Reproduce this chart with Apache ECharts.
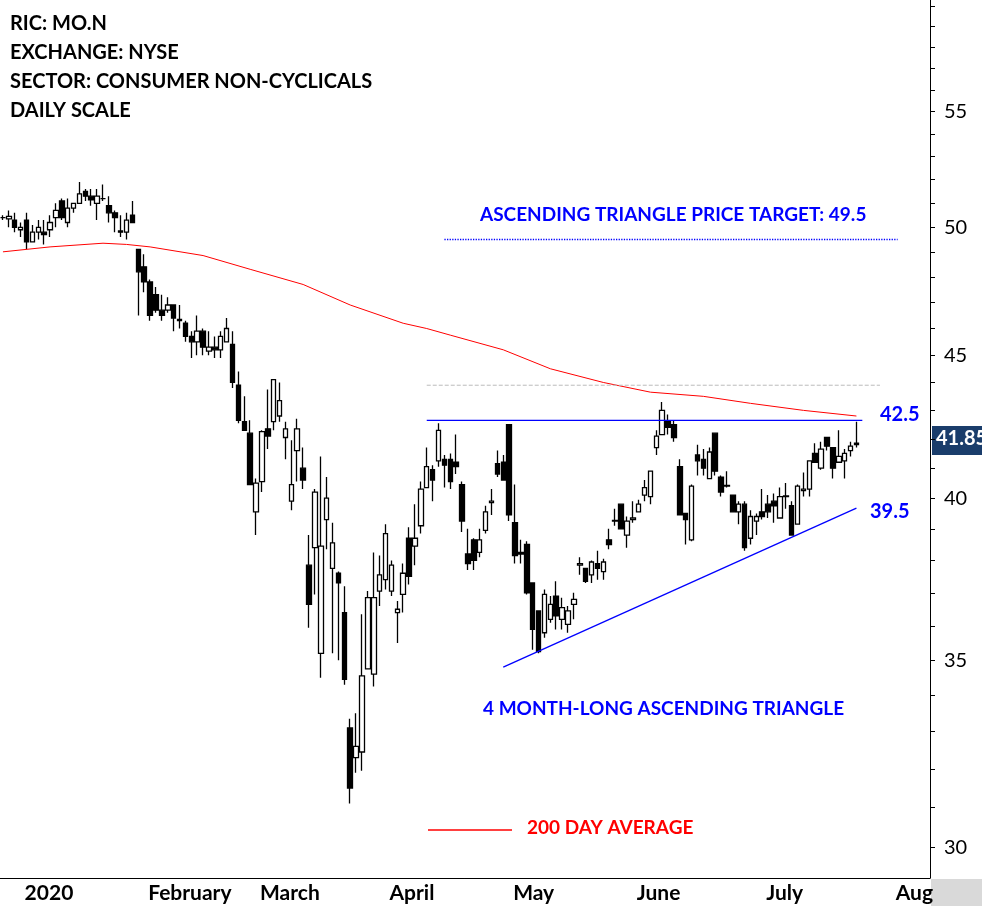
<!DOCTYPE html>
<html><head><meta charset="utf-8">
<script src="https://cdn.jsdelivr.net/npm/echarts@6/dist/echarts.min.js"></script>
<style>html,body{margin:0;padding:0;background:#fff}#c{width:982px;height:906px}</style>
</head><body><div id="c"></div>
<script>
// OHLC rows: [open, close, low, high]
const candles = [
[50.4,50.4,50.3,50.5],[50.35,50.45,50.0,50.7],[50.3,50.0,49.8,50.6],[49.9,50.0,49.6,50.2],[50.3,49.4,49.1,50.6],
[49.4,49.8,49.4,50.1],[49.8,50.0,49.5,50.3],[49.8,49.7,49.3,50.3],[49.9,50.2,49.6,50.5],[50.4,50.7,50.0,51.0],
[51.1,50.4,50.3,51.2],[50.2,50.8,50.0,51.2],[50.8,51.0,50.6,51.0],[51.0,51.4,51.0,51.9],[51.5,51.3,51.1,51.6],
[51.3,51.15,50.9,51.6],[51.0,51.3,50.3,51.6],[51.2,51.2,51.1,51.8],[50.9,50.6,50.2,51.3],[50.6,50.4,49.8,50.7],
[49.85,49.8,49.6,50.5],[49.8,50.3,49.5,50.6],[50.5,50.2,50.2,51.1],[49.1,48.2,46.5,49.1],[48.4,47.8,47.4,48.9],
[47.8,46.5,46.3,47.9],[47.3,46.7,46.6,47.6],[46.7,46.5,46.3,47.3],[46.7,46.9,46.6,47.2],[46.9,46.4,45.9,46.9],
[46.35,46.3,46.0,46.9],[46.2,45.7,45.5,46.3],[45.7,45.5,44.9,45.9],[45.5,45.9,45.0,46.5],[45.9,45.3,45.0,46.0],
[45.15,45.3,45.0,45.9],[45.3,45.2,44.9,45.7],[45.2,45.7,44.9,45.9],[45.5,46.0,45.5,46.4],[45.4,44.0,43.8,45.9],
[43.9,42.65,42.55,44.4],[42.6,42.3,42.3,43.5],[42.2,40.45,40.45,42.65],[39.55,40.5,38.8,40.65],[40.55,42.25,40.2,42.3],
[42.35,42.1,41.65,43.75],[42.6,44.1,42.3,44.1],[42.8,43.35,42.6,44.0],[42.05,42.35,41.3,42.6],[39.9,40.45,39.6,41.95],
[41.6,42.35,40.55,42.7],[41.0,40.6,40.3,41.7],[37.85,36.65,35.95,38.8],[38.4,40.2,36.95,40.3],[35.2,38.45,34.5,41.4],
[39.3,40.0,38.35,40.7],[37.75,38.55,35.2,39.2],[37.6,37.3,35.0,37.65],[36.4,34.45,34.3,37.2],[33.1,31.5,31.1,33.35],
[32.3,32.6,31.9,33.5],[32.45,34.55,31.95,36.35],[34.75,36.85,34.75,37.05],[34.6,36.85,34.25,38.25],[37.05,37.55,36.6,38.15],
[37.4,38.85,37.1,39.15],[37.05,37.85,36.9,38.0],[36.4,36.5,35.5,36.75],[36.95,37.6,36.4,37.9],[38.7,37.5,37.25,39.05],
[38.45,38.7,37.85,39.8],[39.1,40.3,38.85,40.55],[40.35,41.05,40.35,41.7],[40.95,40.6,39.9,41.1],[41.25,42.3,41.05,42.55],
[41.3,41.1,40.35,41.45],[41.3,40.55,40.3,41.5],[41.2,41.05,40.8,42.15],[40.45,39.25,38.9,40.55],[38.2,37.9,37.7,39.0],
[38.65,38.0,37.7,38.7],[38.25,38.65,38.1,39.0],[38.95,39.55,38.85,39.75],[39.85,39.9,39.45,40.3],[41.15,40.8,40.7,41.6],
[41.2,40.6,40.6,41.45],[42.5,39.45,39.25,42.5],[39.2,38.15,37.9,40.45],[38.25,38.2,37.9,38.65],[38.5,37.0,36.95,38.6],
[37.3,35.9,35.3,37.3],[36.45,35.25,35.2,36.45],[35.8,36.95,35.65,37.1],[36.2,36.65,36.1,36.9],[36.9,36.3,35.9,37.35],
[36.2,36.55,35.9,36.85],[36.05,36.45,35.8,36.6],[36.65,36.8,36.2,37.0],[37.85,37.9,37.55,38.1],[37.75,37.35,37.3,37.75],
[37.55,37.95,37.3,38.0],[37.9,37.75,37.4,38.3],[37.65,37.95,37.4,38.05],[38.65,38.5,38.35,39.0],[39.25,39.27,39.1,39.65],
[39.8,39.0,39.0,39.8],[38.8,39.25,38.4,39.4],[39.3,39.35,39.2,39.9],[39.55,39.8,39.55,39.95],[40.1,40.35,39.9,40.6],
[40.05,40.9,39.8,40.9],[41.7,42.1,41.45,42.3],[42.15,43.0,42.15,43.3],[42.6,42.4,42.15,42.85],[42.5,42.05,41.9,42.65],
[41.05,39.45,39.45,41.3],[39.5,39.3,38.5,39.5],[38.65,40.4,38.6,40.45],[41.45,41.25,40.75,41.8],[41.3,41.0,40.75,41.65],
[40.65,41.55,40.65,41.7],[42.2,40.9,40.75,42.2],[40.7,40.2,40.05,40.75],[40.4,40.42,40.35,40.9],[40.1,39.55,39.55,40.1],
[39.55,39.8,39.15,39.9],[39.8,38.4,38.3,39.9],[38.7,39.4,38.5,39.6],[39.25,39.4,38.8,39.5],[39.55,39.4,39.3,40.3],
[39.8,39.55,39.35,40.1],[39.9,39.75,39.2,40.15],[39.35,40.05,39.35,40.35],[40.05,40.07,39.65,40.5],[39.75,38.8,38.8,39.9],
[39.15,40.4,39.15,40.45],[40.25,40.3,40.05,40.85],[40.3,41.25,40.05,41.25],[41.5,41.2,41.2,41.85],[41.0,41.65,40.95,41.9],
[42.05,41.75,41.6,42.05],[41.7,41.0,40.65,41.7],[41.2,41.4,41.2,42.3],[41.25,41.5,40.65,41.65],[41.6,41.75,41.4,41.9],
[41.85,41.8,41.7,42.6]
];
// 200-day average samples: [category index, value]
const ma200 = [[0,49.0],[8,49.2],[17,49.35],[21,49.3],[25,49.2],[34,48.85],[42,48.3],[51,47.7],[59,46.9],[68,46.2],
[72,46.0],[76,45.75],[85,45.2],[93,44.5],[102,44.0],[110,43.65],[119,43.5],[127,43.25],[136,43.0],[145,42.8]];
const monthLabels = {3:'2020',24:'February',43:'March',65:'April',86:'May',107:'June',129:'July',151:'Aug'};
const priceTicks = [30,35,40,45,50,55];
const resistance = [[72,42.65],[146,42.65]];
const grayLevel = [[72,43.9],[149,43.9]];
const targetLine = [[75,49.5],[152,49.5]];
const supportLine = [[85,34.8],[145,39.67]];
const lastPrice = 41.85;
const nCats = 158;

const L = Math.log;
const cats = Array.from({length:nCats},(_,i)=>String(i));
const cdata = candles.map(r=>[L(r[0]),L(r[1]),L(r[2]),L(r[3])]);
const tr = a=>a.map(p=>[p[0],L(p[1])]);
const minorTicks=[]; for(let v=29;v<=60;v++) minorTicks.push(L(v));
const FONT='Lato';

const chart = echarts.init(document.getElementById('c'));
function lineSeries(data,color,type,width){return {type:'line',data:tr(data),symbol:'none',silent:true,color:color,
  itemStyle:{color:color},lineStyle:{color:color,width:width||1,type:type||'solid'},z:6,animation:false};}
chart.setOption({
  animation:false,
  grid:{left:0,right:52,top:0,bottom:28},
  xAxis:{type:'category',data:cats,boundaryGap:true,
    axisLine:{lineStyle:{color:'#000',width:1}},
    axisTick:{interval:(i)=>monthLabels[i]!==undefined,alignWithLabel:true,length:6,lineStyle:{color:'#000'}},
    axisLabel:{interval:(i)=>monthLabels[i]!==undefined,formatter:(v,i)=>monthLabels[i]||'',align:'left',padding:[0,0,0,4],
      color:'#000',fontFamily:FONT,fontWeight:'bold',fontSize:21,margin:5},
    splitLine:{show:false}},
  yAxis:{type:'value',position:'right',min:L(29.25),max:L(60.3),scale:true,
    axisLine:{show:true,lineStyle:{color:'#000'}},
    axisTick:{show:true,customValues:minorTicks,length:5,lineStyle:{color:'#000'}},
    axisLabel:{customValues:priceTicks.map(L),formatter:v=>String(Math.round(Math.exp(v))),color:'#000',
      fontFamily:FONT,fontSize:20,margin:14},
    splitLine:{show:false}},
  series:[
    {type:'candlestick',data:cdata,barWidth:5,z:5,
      itemStyle:{color:'#fff',color0:'#000',borderColor:'#000',borderColor0:'#000',borderWidth:1.3}},
    lineSeries(ma200,'#ff0000'),
    lineSeries(resistance,'#0000ff','solid',1.3),
    lineSeries(grayLevel,'#bbbbbb','dashed',1),
    lineSeries(targetLine,'#0000ff','dotted',1.3),
    lineSeries(supportLine,'#0000ff','solid',1.3)
  ],
  graphic:[
    {type:'text',left:10,top:9,style:{text:'RIC: MO.N\nEXCHANGE: NYSE\nSECTOR: CONSUMER NON-CYCLICALS\nDAILY SCALE',
      font:'bold 20px Lato',lineHeight:29,fill:'#000'}},
    {type:'text',left:480,top:205,style:{text:'ASCENDING TRIANGLE PRICE TARGET: 49.5',font:'bold 19px Lato',fill:'#0000ff'}},
    {type:'text',left:880,top:405,style:{text:'42.5',font:'bold 20px Lato',fill:'#0000ff'}},
    {type:'text',left:870,top:502,style:{text:'39.5',font:'bold 20px Lato',fill:'#0000ff'}},
    {type:'text',left:483,top:699,style:{text:'4 MONTH-LONG ASCENDING TRIANGLE',font:'bold 19px Lato',fill:'#0000ff'}},
    {type:'line',shape:{x1:428,y1:830,x2:512,y2:830},style:{stroke:'#ff0000',lineWidth:1.5}},
    {type:'text',left:527,top:818,style:{text:'200 DAY AVERAGE',font:'bold 19px Lato',fill:'#ff0000'}},
    {type:'rect',shape:{x:932,y:426,width:60,height:29},style:{fill:'#1a3d6b'}},
    {type:'text',left:936,top:429,style:{text:lastPrice.toFixed(2),font:'bold 20px Lato',fill:'#fff'}},
    {type:'rect',shape:{x:931,y:879,width:60,height:30},style:{fill:'#d9d9d9'},z:-1}
  ]
});
</script></body></html>
